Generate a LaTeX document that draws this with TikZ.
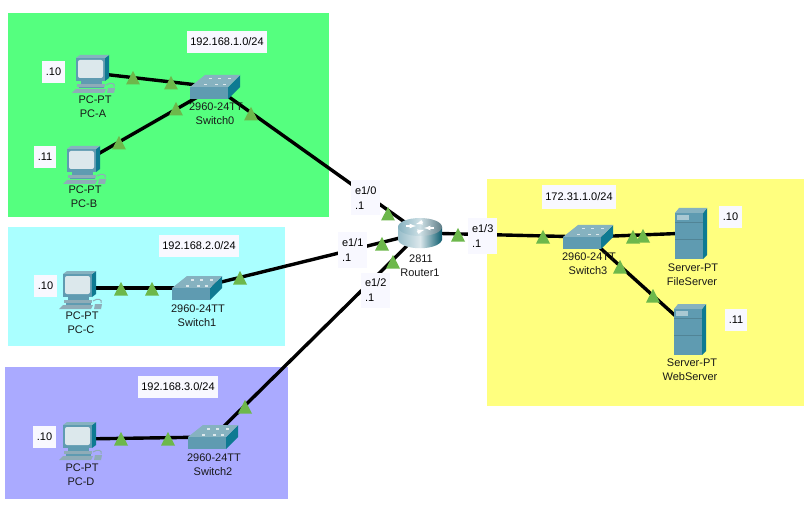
\documentclass[tikz,border=0pt]{standalone}
\usepackage{fontspec}
\setmainfont{Liberation Sans}
\definecolor{zgreen}{HTML}{55FF7F}
\definecolor{zcyan}{HTML}{AAFFFF}
\definecolor{zpurple}{HTML}{AAAAFF}
\definecolor{zyellow}{HTML}{FFFF7F}
\definecolor{tricol}{HTML}{6DB84B}
\definecolor{boxcol}{HTML}{F8F8FF}
\definecolor{devfront}{HTML}{5F9BB1}
\definecolor{devtop}{HTML}{86B2C0}
\definecolor{devside}{HTML}{0E7A92}
\definecolor{devscreen}{HTML}{DCE8EC}
\definecolor{devkey}{HTML}{8FACB8}
\tikzset{
  link/.style={draw=black,line width=3.4pt},
  devnode/.style={inner sep=0pt,minimum size=0pt,outer sep=0pt},
  ilabel/.style={fill=boxcol,inner sep=0pt,font=\fontsize{11}{14}\selectfont,align=center},
  elabel/.style={fill=boxcol,inner sep=0pt,font=\fontsize{11}{15}\selectfont,align=left,text width=21pt,minimum width=29pt,minimum height=35pt},
  nm/.style={inner sep=0pt,font=\fontsize{11}{14}\selectfont,text=black!90},
  pics/pcicon/.style={code={
    \fill[devside] (12,-17)--(16,-20)--(16,3)--(12,6)--cycle;
    \fill[devtop] (-17,-17)--(-13,-20)--(16,-20)--(12,-17)--cycle;
    \fill[devfront] (-17,-17) rectangle (12,6);
    \fill[devscreen,rounded corners=2pt] (-15,-15) rectangle (10,3);
    \fill[devfront] (-12,6) rectangle (9,9);
    \fill[devkey] (-16,9) rectangle (12,12);
    \fill[devfront] (-14,12) rectangle (11,13.5);
    \fill[devkey] (-21,18)--(-17,14)--(13,14)--(11,18)--cycle;
    \draw[devkey,line width=1pt] (13,10) .. controls (17,7) and (23,8) .. (21,12);
    \fill[devkey] (15,13)--(22,13)--(21,18)--(14,18)--cycle;
  }},
  pics/swicon/.style={code={
    \fill[devside] (13,0)--(25,-12)--(25,0)--(13,12)--cycle;
    \fill[devtop] (-25,0)--(-10,-12)--(25,-12)--(13,0)--cycle;
    \fill[devfront] (-25,0) rectangle (13,12);
    \foreach \a/\b in {-11/-3,0/-3,8/-3,13/-9,3/-9,-6/-9}{\fill[devscreen] (\a,\b) rectangle ++(3,1.5);}
  }},
  pics/srvicon/.style={code={
    \fill[devside] (12,-20)--(16,-25)--(16,22)--(12,26)--cycle;
    \fill[devtop] (-16,-20)--(-12,-25)--(16,-25)--(12,-20)--cycle;
    \fill[devfront] (-16,-20) rectangle (12,26);
    \fill[devtop!70!white] (-14,-18) rectangle (-2,-13);
    \draw[devfront!85!black,line width=0.5pt] (-16,-11)--(12,-11) (-16,6)--(12,6);
  }},
  pics/rtricon/.style={code={
    \path[left color=devtop!85!white,right color=devside!75!black,middle color=devscreen]
      (-22,-6) -- (-22,7) .. controls (-18,18) and (18,18) .. (22,7) -- (22,-6) -- cycle;
    \path[left color=devtop,right color=devtop!70!black,middle color=devtop!40!white]
      (0,-6) ellipse [x radius=22,y radius=9];
    \draw[white,line width=1.2pt,-latex] (-14,-7)--(-4,-7);
    \draw[white,line width=1.2pt,-latex] (14,-5)--(4,-5);
    \draw[white,line width=1.2pt,-latex] (-3,-1)--(4,-3);
    \draw[white,line width=1.2pt,-latex] (3,-11)--(-4,-9);
  }}
}
\newcommand{\tri}[2]{\fill[tricol] (#1-7,#2+6.5)--(#1,#2-7)--(#1+7,#2+6.5)--cycle;}
\begin{document}
\begin{tikzpicture}[x=1pt,y=-1pt]
\useasboundingbox (0,0) rectangle (812,508);
\fill[white] (0,0) rectangle (812,508);
\fill[zgreen] (8,13) rectangle (329,217);
\fill[zcyan] (8,227) rectangle (285,346);
\fill[zpurple] (5,367) rectangle (288,499);
\fill[zyellow] (487,179) rectangle (804,406);
\node[devnode] (pca) at (93,73) {};
\node[devnode] (pcb) at (84,162) {};
\node[devnode] (pcc) at (80,288) {};
\node[devnode] (pcd) at (80,439) {};
\node[devnode] (sw0) at (215,87) {};
\node[devnode] (sw1) at (197,288) {};
\node[devnode] (sw2) at (213,437) {};
\node[devnode] (sw3) at (588,237) {};
\node[devnode] (r1) at (420,233) {};
\node[devnode] (fs) at (691,233) {};
\node[devnode] (ws) at (690,329) {};
\draw[link] (pca)--(sw0);
\draw[link] (pcb)--(sw0);
\draw[link] (sw0)--(r1);
\draw[link] (pcc)--(sw1);
\draw[link] (sw1)--(r1);
\draw[link] (pcd)--(sw2);
\draw[link] (sw2)--(r1);
\draw[link] (r1)--(sw3);
\draw[link] (sw3)--(fs);
\draw[link] (sw3)--(ws);
\node[elabel] (e0) at (365.5,198) {e1/0\\.1};
\node[elabel] (e1) at (352.5,250) {e1/1\\.1};
\node[elabel] (e2) at (375.5,290) {e1/2\\.1};
\node[elabel] (e3) at (482.5,236) {e1/3\\.1};
\foreach \a/\b in {133/78,171/83,119/143,176/109,251/114,388/214,382/244,393/262,458/235,543/237,633/237,643/236,620/267,653/296,240/278,121/289,152/289,121/439,168/439,245/407}{\tri{\a}{\b}}
\path (93,75) pic {pcicon};
\path (84,166) pic {pcicon};
\path (80,291) pic {pcicon};
\path (80,442) pic {pcicon};
\path (sw0) pic {swicon};
\path (sw1) pic {swicon};
\path (sw2) pic {swicon};
\path (sw3) pic {swicon};
\path (r1) pic {rtricon};
\path (fs) pic {srvicon};
\path (ws) pic {srvicon};
\node[ilabel,minimum width=80pt,minimum height=22pt] (n1) at (227,42) {192.168.1.0/24};
\node[ilabel,minimum width=80pt,minimum height=22pt] (n2) at (199,246) {192.168.2.0/24};
\node[ilabel,minimum width=80pt,minimum height=22pt] (n3) at (178,387) {192.168.3.0/24};
\node[ilabel,minimum width=74pt,minimum height=24pt] (n4) at (579,197) {172.31.1.0/24};
\node[ilabel,minimum width=23pt,minimum height=22pt] (a1) at (53.5,72) {.10};
\node[ilabel,minimum width=22pt,minimum height=22pt] (a2) at (45,157) {.11};
\node[ilabel,minimum width=23pt,minimum height=22pt] (a3) at (45.5,286) {.10};
\node[ilabel,minimum width=23pt,minimum height=22pt] (a4) at (44.5,437) {.10};
\node[ilabel,minimum width=23pt,minimum height=22pt] (a5) at (730.5,217) {.10};
\node[ilabel,minimum width=22pt,minimum height=22pt] (a6) at (736,320) {.11};
\node[nm] (t1) at (95,100) {PC-PT};
\node[nm] (t2) at (93,114) {PC-A};
\node[nm] (t3) at (85,190) {PC-PT};
\node[nm] (t4) at (84,204) {PC-B};
\node[nm] (t5) at (82,316) {PC-PT};
\node[nm] (t6) at (81,330) {PC-C};
\node[nm] (t7) at (82,468) {PC-PT};
\node[nm] (t8) at (81,482) {PC-D};
\node[nm] (t9) at (216,107) {2960-24TT};
\node[nm] (t10) at (215,121) {Switch0};
\node[nm] (t11) at (198,309) {2960-24TT};
\node[nm] (t12) at (197,323) {Switch1};
\node[nm] (t13) at (214,458) {2960-24TT};
\node[nm] (t14) at (213,472) {Switch2};
\node[nm] (t15) at (589,257) {2960-24TT};
\node[nm] (t16) at (588,271) {Switch3};
\node[nm] (t17) at (421,259) {2811};
\node[nm] (t18) at (420,273) {Router1};
\node[nm] (t19) at (693,268) {Server-PT};
\node[nm] (t20) at (692,282) {FileServer};
\node[nm] (t21) at (692,363) {Server-PT};
\node[nm] (t22) at (690,377) {WebServer};
\end{tikzpicture}
\end{document}
